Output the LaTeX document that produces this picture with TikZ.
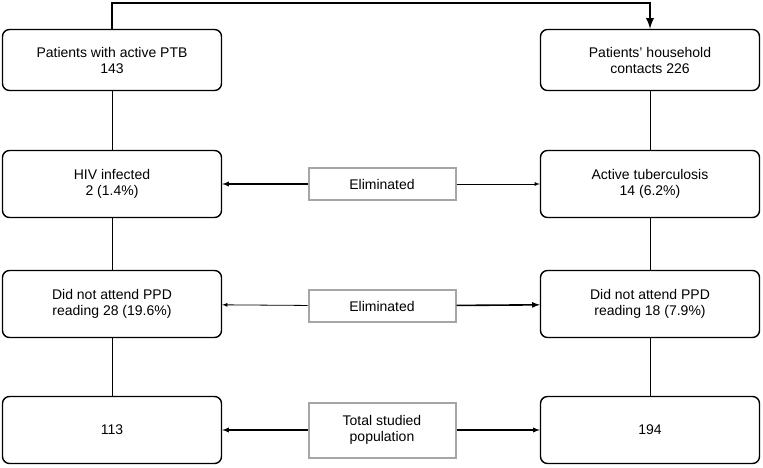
\documentclass[tikz,border=0pt]{standalone}
\usepackage{fontspec}
\setmainfont{Liberation Sans}
\begin{document}
\begin{tikzpicture}[x=1pt,y=-1pt,
  box/.style={draw,line width=1.4pt,rounded corners=7pt,minimum width=219pt,minimum height=67pt,align=center,font=\fontsize{14}{16}\selectfont},
  mid/.style={draw=gray!70,line width=2pt,minimum width=147pt,align=center,font=\fontsize{14}{16}\selectfont},
  arr/.style={-latex,line width=1.3pt},
  thin/.style={line width=0.5pt}]
\useasboundingbox (0,0) rectangle (763,468);
\node[box,minimum height=61pt] (l1) at (112,60) {Patients with active PTB\\143};
\node[box,minimum height=61pt] (r1) at (650,60) {Patients' household\\contacts 226};
\node[box] (l2) at (112,184) {HIV infected\\2 (1.4\%)};
\node[box] (r2) at (650,184) {Active tuberculosis\\14 (6.2\%)};
\node[box] (l3) at (112,304) {Did not attend PPD\\reading 28 (19.6\%)};
\node[box] (r3) at (650,304) {Did not attend PPD\\reading 18 (7.9\%)};
\node[box] (l4) at (112,430) {113};
\node[box] (r4) at (650,430) {194};
\node[mid,minimum height=32pt] (m1) at (382,184) {Eliminated};
\node[mid,minimum height=32pt] (m2) at (382,306) {Eliminated};
\node[mid,minimum height=55pt] (m3) at (382,430) {Total studied\\population};
\draw[thin] (l1) -- (l2) -- (l3) -- (l4);
\draw[thin] (r1) -- (r2) -- (r3) -- (r4);
\draw[arr,line width=2.6pt] (l1.north) -- (112,3) -- (650,3) -- (r1.north);
\draw[arr] (m1) -- (l2); \draw[arr,line width=0.8pt] (m1) -- (r2);
\draw[arr,line width=0.8pt] (m2) -- (l3); \draw[arr,line width=1.6pt] (m2) -- (r3);
\draw[arr] (m3) -- (l4); \draw[arr] (m3) -- (r4);
\end{tikzpicture}
\end{document}
